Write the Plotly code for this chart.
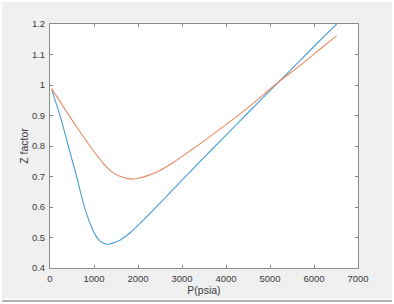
import plotly.graph_objects as go

# ---- data ----
p_blue = [38, 130, 227, 320, 417, 510, 606, 700, 800, 900, 1000, 1100, 1200, 1320,
          1450, 1600, 1800, 2000, 2250, 2500, 2800, 3100, 3409, 4000, 4500, 5120,
          5682, 6100, 6515]
z_blue = [0.985, 0.944, 0.900, 0.852, 0.800, 0.750, 0.700, 0.645, 0.592, 0.550,
          0.516, 0.494, 0.482, 0.478, 0.483, 0.492, 0.513, 0.540, 0.576, 0.613,
          0.658, 0.703, 0.749, 0.836, 0.909, 0.999, 1.080, 1.141, 1.200]

p_orange = [38, 200, 400, 600, 800, 1000, 1200, 1400, 1600, 1800, 1900, 2000, 2200,
            2500, 2800, 3200, 3400, 4000, 4500, 5120, 5700, 6100, 6515]
z_orange = [0.988, 0.952, 0.907, 0.864, 0.822, 0.782, 0.745, 0.716, 0.700, 0.693,
            0.692, 0.694, 0.702, 0.720, 0.746, 0.786, 0.806, 0.870, 0.926, 1.001,
            1.066, 1.113, 1.162]

x_ticks = [0, 1000, 2000, 3000, 4000, 5000, 6000, 7000]
y_ticks = [0.4, 0.5, 0.6, 0.7, 0.8, 0.9, 1.0, 1.1, 1.2]
y_tick_text = ["0.4", "0.5", "0.6", "0.7", "0.8", "0.9", "1", "1.1", "1.2"]

FONT = "Liberation Sans, Arial, sans-serif"

fig = go.Figure()
fig.add_trace(go.Scatter(x=p_blue, y=z_blue, mode="lines",
                         line=dict(color="#4c9fd9", width=1.1, shape="spline", smoothing=0.8),
                         showlegend=False, hoverinfo="skip"))
fig.add_trace(go.Scatter(x=p_orange, y=z_orange, mode="lines",
                         line=dict(color="#e88a62", width=1.1, shape="spline", smoothing=0.8),
                         showlegend=False, hoverinfo="skip"))

axis_common = dict(
    showgrid=False, zeroline=False, showline=True, linecolor="#8a8a8a", linewidth=1,
    mirror="ticks", ticks="inside", ticklen=3, tickcolor="#8a8a8a", tickwidth=1,
    tickfont=dict(family=FONT, size=9.5, color="#3a3a3a"), automargin=False,
)

fig.update_layout(
    width=394, height=304,
    margin=dict(l=50, r=36, t=24, b=36),
    paper_bgcolor="#f0f0f0", plot_bgcolor="#ffffff",
    xaxis=dict(range=[0, 7000], tickvals=x_ticks, ticktext=[str(v) for v in x_ticks],
               title=dict(text="P(psia)", font=dict(family=FONT, size=10.5, color="#3a3a3a"),
                          standoff=3),
               ticklabelstandoff=2, **axis_common),
    yaxis=dict(range=[0.4, 1.2], tickvals=y_ticks, ticktext=y_tick_text,
               title=dict(text="Z factor", font=dict(family=FONT, size=10.5, color="#3a3a3a"),
                          standoff=1),
               ticklabelstandoff=2, **axis_common),
    shapes=[
        dict(type="rect", xref="paper", yref="paper", x0=-0.3, x1=1.3, y0=1.0902, y1=1.2,
             fillcolor="#ffffff", line=dict(width=0), layer="above"),
        dict(type="rect", xref="paper", yref="paper", x0=-0.3, x1=-0.1558, y0=-0.3, y1=1.2,
             fillcolor="#ffffff", line=dict(width=0), layer="above"),
        dict(type="rect", xref="paper", yref="paper", x0=1.1104, x1=1.3, y0=-0.3, y1=1.2,
             fillcolor="#ffffff", line=dict(width=0), layer="above"),
        dict(type="rect", xref="paper", yref="paper", x0=-0.3, x1=1.3, y0=-0.3, y1=-0.127,
             fillcolor="#ffffff", line=dict(width=0), layer="above"),
        dict(type="line", xref="paper", yref="paper", x0=-0.1558, x1=1.1104, y0=-0.1352, y1=-0.1352,
             line=dict(color="#606060", width=1), layer="above"),
    ],
)

fig.write_html("out.html")
